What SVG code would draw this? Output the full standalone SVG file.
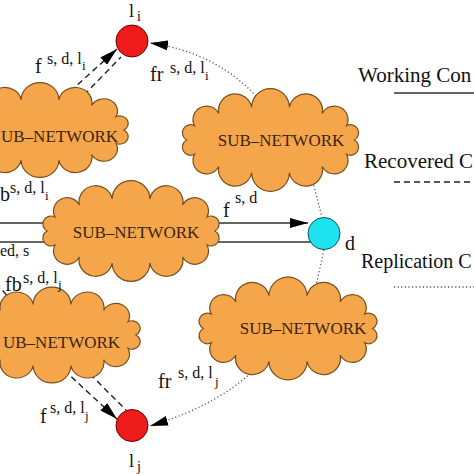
<svg xmlns="http://www.w3.org/2000/svg" width="474" height="474" viewBox="0 0 474 474">
<style>
text{font-family:"Liberation Serif","Times New Roman",serif;fill:#111}
.net{font-size:17px;fill:#3b2410}
.mid{text-anchor:middle}
.cloud{fill:#F5A64A;stroke:#7A5020;stroke-width:1.2}
.work{stroke:#333;stroke-width:1.7;fill:none}
.rec{stroke:#222;stroke-width:1.4;fill:none;stroke-dasharray:6 4}
.rep{stroke:#555;stroke-width:1.3;fill:none;stroke-dasharray:1.2 2.4}
.m{font-size:20px}
.sup{font-size:16px}
.sub{font-size:13px}
.leg{font-size:21px}
.red{fill:#EE1B1B;stroke:#6b0000;stroke-width:1}
.cyan{fill:#1FE2EF;stroke:#0d5560;stroke-width:1}
</style>
<defs>
<path id="cloud" d="M81.4 0 A1 1 0 0 1 73.8 14 A1 1 0 0 1 50.2 26 A1 1 0 0 1 18.3 32.1 A1 1 0 0 1 -18.3 32.1 A1 1 0 0 1 -50.2 26 A1 1 0 0 1 -73.8 14 A1 1 0 0 1 -81.4 0 A1 1 0 0 1 -73.8 -14 A1 1 0 0 1 -50.2 -26 A1 1 0 0 1 -18.3 -32.1 A1 1 0 0 1 18.3 -32.1 A1 1 0 0 1 50.2 -26 A1 1 0 0 1 73.8 -14 A1 1 0 0 1 81.4 0 Z"/>
<marker id="arr" viewBox="0 0 18 10" refX="18" refY="5" markerWidth="18" markerHeight="10" markerUnits="userSpaceOnUse" orient="auto">
<path d="M0 0 L18 5 L0 10 Z" fill="#000" stroke="none"/>
</marker>
</defs>

<g id="connectors">
<path class="work" d="M-5 223 H60"/>
<path class="work" d="M-5 242 H60"/>
<path class="work" d="M200 223 H308" marker-end="url(#arr)"/>
<path class="work" d="M200 242 H311"/>
<path class="rec" d="M63 98 L117 49" marker-end="url(#arr)"/>
<path class="rec" d="M84 95 L121 57"/>
<path class="rec" d="M64 370 L117 419" marker-end="url(#arr)"/>
<path class="rec" d="M90 374 L126 410"/>
<path class="rec" d="M-4 283 L11 300"/>
<path class="rep" d="M256 96 Q215 52 150 43" marker-end="url(#arr)"/>
<path class="rep" d="M311 175 L322 217"/>
<path class="rep" d="M324 250 L315 290"/>
<path class="rep" d="M258 366 Q220 405 150 426" marker-end="url(#arr)"/>
</g>

<g id="cloud1"><use href="#cloud" class="cloud" transform="translate(40 130) scale(1.03 0.94)"/><text class="net" x="1" y="142">UB–NETWORK</text></g>
<g id="cloud2"><use href="#cloud" class="cloud" transform="translate(270.5 140) scale(1.03 1.02)"/><text class="net mid" x="281" y="146">SUB–NETWORK</text></g>
<g id="cloud3"><use href="#cloud" class="cloud" transform="translate(131 231) scale(1.03 1)"/><text class="net mid" x="136" y="238">SUB–NETWORK</text></g>
<g id="cloud4"><use href="#cloud" class="cloud" transform="translate(52 335) scale(1.03 0.95)"/><text class="net" x="3" y="348">UB–NETWORK</text></g>
<g id="cloud5"><use href="#cloud" class="cloud" transform="translate(288 328.5) scale(1.04 1.02)"/><text class="net mid" x="303" y="334">SUB–NETWORK</text></g>

<g id="node-li"><circle class="red" cx="132" cy="41" r="16"/><text><tspan x="129" y="17" style="font-size:18px">l</tspan><tspan x="137" y="21" style="font-size:14px">i</tspan></text></g>
<g id="node-d"><circle class="cyan" cx="324" cy="233.5" r="16"/><text class="m" x="345" y="250">d</text></g>
<g id="node-lj"><circle class="red" cx="132" cy="425.5" r="16"/><text><tspan x="129" y="467" style="font-size:18px">l</tspan><tspan x="137" y="471" style="font-size:14px">j</tspan></text></g>

<g id="labels">
<text><tspan class="m" x="35" y="73">f</tspan><tspan class="sup" x="47" y="64">s, d, l</tspan><tspan class="sub" x="82" y="70">i</tspan></text>
<text><tspan class="m" x="150" y="81">fr</tspan><tspan class="sup" x="170" y="73">s, d, l</tspan><tspan class="sub" x="205" y="80">i</tspan></text>
<text><tspan class="m" x="0" y="201">b</tspan><tspan class="sup" x="10" y="193">s, d, l</tspan><tspan class="sub" x="45" y="200">i</tspan></text>
<text><tspan class="m" x="223" y="217">f</tspan><tspan class="sup" x="235" y="203">s, d</tspan></text>
<text class="sup" x="0" y="256">ed, s</text>
<text><tspan class="m" x="5" y="291">fb</tspan><tspan class="sup" x="23" y="283">s, d, l</tspan><tspan class="sub" x="58" y="289">j</tspan></text>
<text><tspan class="m" x="158" y="388">fr</tspan><tspan class="sup" x="178" y="378">s, d, l</tspan><tspan class="sub" x="215" y="386">j</tspan></text>
<text><tspan class="m" x="40" y="423">f</tspan><tspan class="sup" x="50" y="413">s, d, l</tspan><tspan class="sub" x="85" y="420">j</tspan></text>
</g>

<g id="legend">
<text class="leg" x="358" y="82">Working Con</text>
<path class="work" d="M394 93 H474"/>
<text class="leg" x="364" y="168">Recovered C</text>
<path class="rec" d="M394 182 H474"/>
<text x="361" y="268" style="font-size:20px">Replication C</text>
<path class="rep" d="M394 287 H474"/>
</g>
</svg>
